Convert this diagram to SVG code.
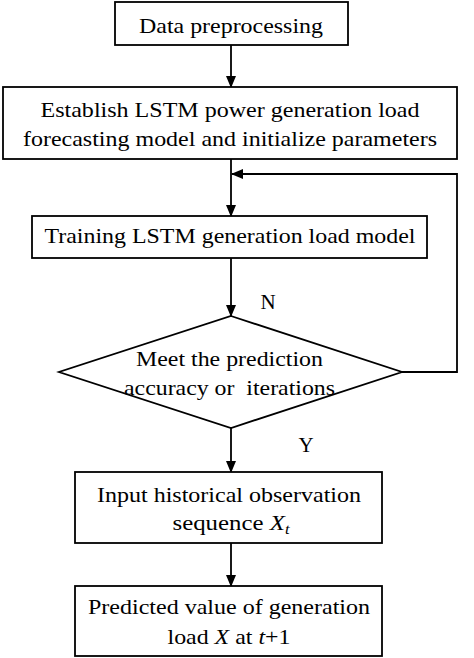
<svg xmlns="http://www.w3.org/2000/svg" width="474" height="658" viewBox="0 0 474 658">
<defs>
<marker id="ah" markerWidth="12" markerHeight="12" refX="11" refY="5" orient="auto" markerUnits="userSpaceOnUse" viewBox="0 0 12 10">
<path d="M0,0 L12,5 L0,10 Z" fill="#000"/>
</marker>
</defs>
<style>
.n{fill:#fff;stroke:#000;stroke-width:1.8}
.t{font-family:"Liberation Serif","Times New Roman",serif;font-size:21px;fill:#000;text-anchor:middle}
.c{fill:none;stroke:#000;stroke-width:1.8}
</style>
<rect width="474" height="658" fill="#fff"/>
<g id="connectors">
<line class="c" x1="231" y1="45" x2="231" y2="87" marker-end="url(#ah)"/>
<line class="c" x1="231" y1="159" x2="231" y2="216" marker-end="url(#ah)"/>
<polyline class="c" points="402,372 457,372 457,174 232,174" marker-end="url(#ah)"/>
<line class="c" x1="231" y1="258" x2="231" y2="316" marker-end="url(#ah)"/>
<line class="c" x1="231" y1="428" x2="231" y2="472" marker-end="url(#ah)"/>
<line class="c" x1="231" y1="543" x2="231" y2="586" marker-end="url(#ah)"/>
<text class="t" x="268" y="309">N</text>
<text class="t" x="306" y="452">Y</text>
</g>
<g id="n1">
<rect class="n" x="115" y="2" width="233" height="43"/>
<text class="t" x="231" y="33" textLength="184" lengthAdjust="spacingAndGlyphs">Data preprocessing</text>
</g>
<g id="n2">
<rect class="n" x="3" y="87" width="454" height="72"/>
<text class="t" x="230" y="117" textLength="379" lengthAdjust="spacingAndGlyphs">Establish LSTM power generation load</text>
<text class="t" x="230" y="146" textLength="414" lengthAdjust="spacingAndGlyphs">forecasting model and initialize parameters</text>
</g>
<g id="n3">
<rect class="n" x="32" y="216" width="395" height="42"/>
<text class="t" x="230" y="243" textLength="371" lengthAdjust="spacingAndGlyphs">Training LSTM generation load model</text>
</g>
<g id="n4">
<polygon class="n" points="231,316 402,372 231,428 59,372"/>
<text class="t" x="229.5" y="366" textLength="187" lengthAdjust="spacingAndGlyphs">Meet the prediction</text>
<text class="t" x="229.5" y="395" textLength="211" lengthAdjust="spacingAndGlyphs" xml:space="preserve">accuracy or  iterations</text>
</g>
<g id="n5">
<rect class="n" x="75" y="472" width="307" height="71"/>
<text class="t" x="229" y="502" textLength="264" lengthAdjust="spacingAndGlyphs">Input historical observation</text>
<text class="t" x="231" y="530" textLength="117" lengthAdjust="spacingAndGlyphs">sequence <tspan font-style="italic">X</tspan><tspan font-style="italic" font-size="14" dy="4">t</tspan></text>
</g>
<g id="n6">
<rect class="n" x="75" y="586" width="307" height="70"/>
<text class="t" x="229" y="614" textLength="282" lengthAdjust="spacingAndGlyphs">Predicted value of generation</text>
<text class="t" x="229" y="644" textLength="123" lengthAdjust="spacingAndGlyphs">load <tspan font-style="italic">X</tspan> at <tspan font-style="italic">t</tspan>+1</text>
</g>
</svg>
